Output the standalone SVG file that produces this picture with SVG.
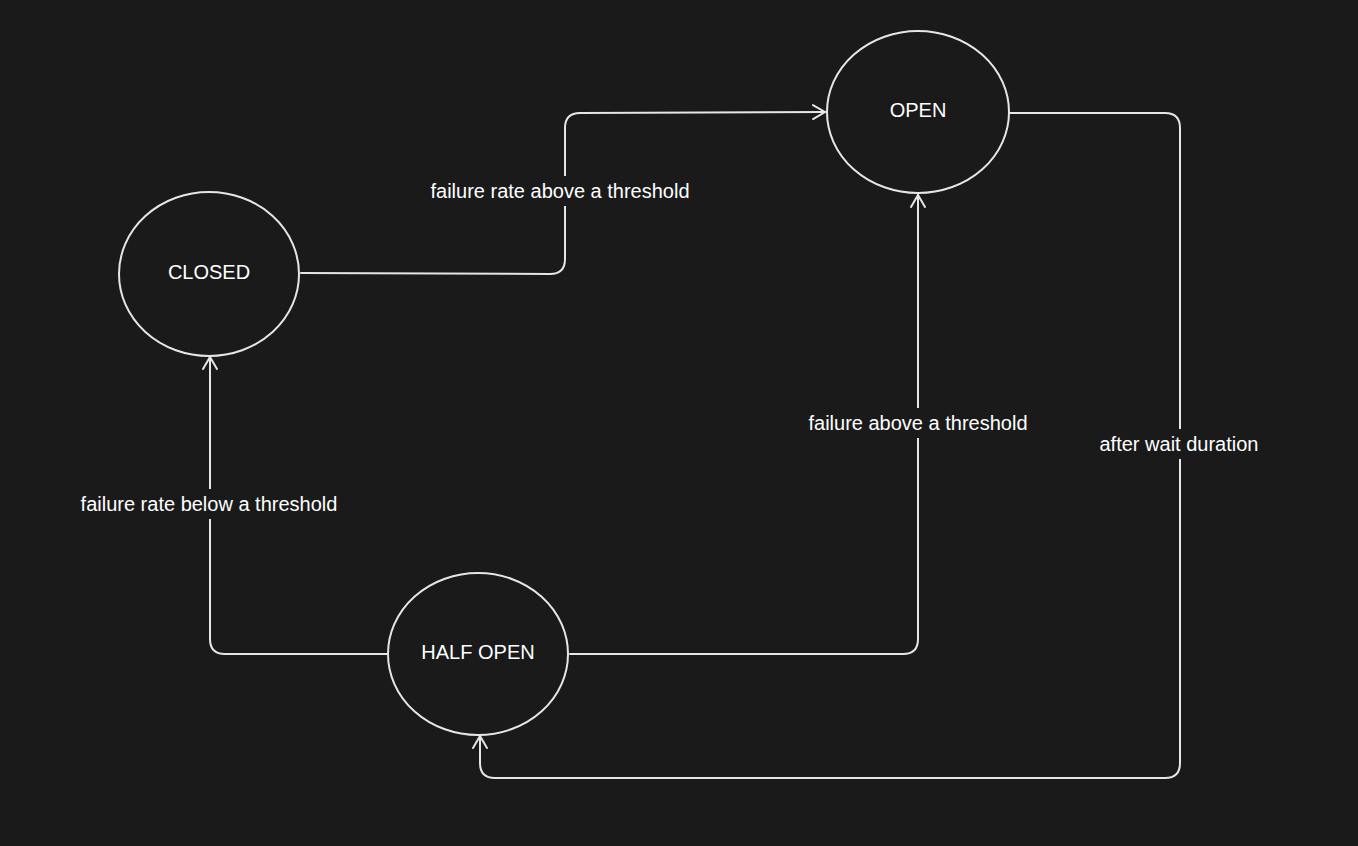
<svg xmlns="http://www.w3.org/2000/svg" width="1358" height="846" viewBox="0 0 1358 846">
<style>
.n{fill:#1a1a1a;stroke:#e6e6e6;stroke-width:2}
.c{fill:none;stroke:#e6e6e6;stroke-width:2;stroke-linecap:round;stroke-linejoin:round}
text{font-family:"Liberation Sans",Arial,sans-serif;font-size:20px;fill:#ffffff;text-anchor:middle;dominant-baseline:central}
.bg{fill:#1a1a1a}
</style>
<defs><marker id="a" markerWidth="20" markerHeight="20" refX="16" refY="10" orient="auto" markerUnits="userSpaceOnUse"><path d="M4,3 L16,10 L4,17" fill="none" stroke="#e6e6e6" stroke-width="2" stroke-linecap="round"/></marker></defs>
<rect width="1358" height="846" fill="#1a1a1a"/>
<g id="connectors">
<path class="c" marker-end="url(#a)" d="M301,273 L550,274 Q565,274 565,259 L565,128 Q565,113 580,113 L825,112"/>
<path class="c" marker-end="url(#a)" d="M1010,113 L1165,113 Q1180,113 1180,128 L1180,763 Q1180,778 1165,778 L495,778 Q480,778 480,763 L480,736"/>
<path class="c" marker-end="url(#a)" d="M570,654 L903,654 Q918,654 918,639 L918,195"/>
<path class="c" marker-end="url(#a)" d="M387,654 L225,654 Q210,654 210,639 L210,357"/>
<rect class="bg" x="416" y="176" width="290" height="30"/>
<text x="560" y="191">failure rate above a threshold</text>
<rect class="bg" x="795" y="408" width="246" height="30"/>
<text x="918" y="423">failure above a threshold</text>
<rect class="bg" x="1089" y="429" width="180" height="30"/>
<text x="1179" y="444">after wait duration</text>
<rect class="bg" x="66" y="489" width="286" height="30"/>
<text x="209" y="504">failure rate below a threshold</text>
</g>
<g id="closed"><ellipse class="n" cx="209" cy="274" rx="90" ry="82"/><text x="209" y="272">CLOSED</text></g>
<g id="open"><ellipse class="n" cx="918" cy="112" rx="91" ry="81"/><text x="918" y="110">OPEN</text></g>
<g id="halfopen"><ellipse class="n" cx="478" cy="654" rx="90" ry="81"/><text x="478" y="652">HALF OPEN</text></g>
</svg>
